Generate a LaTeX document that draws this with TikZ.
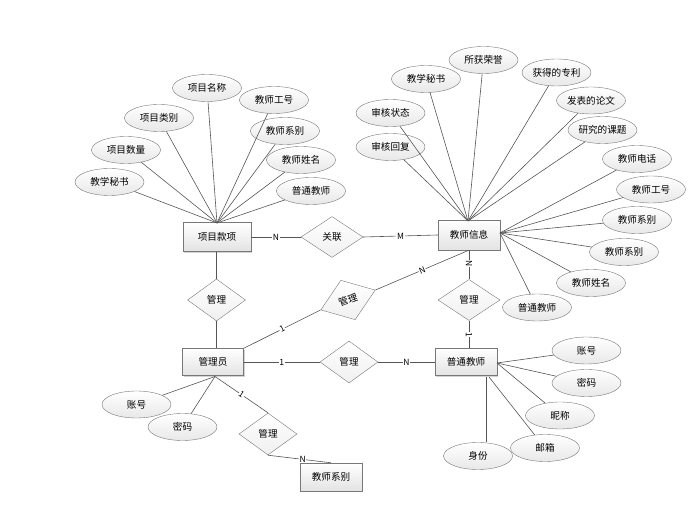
\documentclass[tikz,border=0pt]{standalone}
\usepackage{fontspec}
\setmainfont{Noto Sans CJK SC}
\usetikzlibrary{shapes.geometric,shadows}
\definecolor{linec}{RGB}{85,85,85}
\definecolor{bordc}{RGB}{120,120,120}
\begin{document}
\begin{tikzpicture}[x=1pt,y=-1pt,font=\fontsize{9.6}{11}\selectfont,
  attr/.style={ellipse,draw=bordc,top color=white,bottom color=gray!18,minimum width=69pt,minimum height=27pt,inner sep=0pt},
  entity/.style={rectangle,draw=bordc,top color=white,bottom color=gray!22,minimum width=62pt,minimum height=28pt,inner sep=0pt,
     drop shadow={opacity=0.35,shadow xshift=1.2pt,shadow yshift=-1.2pt}},
  rel/.style={diamond,draw=bordc,top color=white,bottom color=gray!12,minimum width=58pt,minimum height=42pt,inner sep=0pt},
  link/.style={draw=linec,line width=0.6pt},
  lbl/.style={fill=white,inner sep=0.6pt,font=\fontsize{8.5}{10}\selectfont}]
\useasboundingbox (0,0) rectangle (699,518);

% entities
\node[entity,minimum width=68pt,minimum height=29pt] (xm) at (217,237) {项目款项};
\node[entity,minimum height=30pt] (js) at (469,235) {教师信息};
\node[entity,minimum width=61pt,minimum height=27pt] (gly) at (213,362) {管理员};
\node[entity,minimum height=27pt] (pt) at (466,362) {普通教师};
\node[entity] (xb) at (331,477) {教师系别};

% relationships
\node[rel,minimum width=62pt,minimum height=41pt] (gl) at (332,237) {关联};
\node[rel] (r1) at (216.5,300) {管理};
\node[rel,rotate=20] (r2) at (348,300) {管理};
\node[rel,minimum width=62pt,minimum height=41pt] (r3) at (469,300) {管理};
\node[rel] (r4) at (349,362) {管理};
\node[rel] (r5) at (268,434) {管理};

% attributes of 项目款项
\node[attr] (a1) at (207,88) {项目名称};
\node[attr] (a2) at (274,100) {教师工号};
\node[attr] (a3) at (159,118) {项目类别};
\node[attr] (a4) at (285,131) {教师系别};
\node[attr] (a5) at (126,150) {项目数量};
\node[attr] (a6) at (301,160) {教师姓名};
\node[attr] (a7) at (109.5,182) {教学秘书};
\node[attr] (a8) at (311,191) {普通教师};
\coordinate (xmt) at (217,223);
\foreach \a in {a1,a2,a3,a4,a5,a6,a7,a8} \draw[link] (\a) -- (xmt);

% attributes of 教师信息
\node[attr] (b1) at (483.5,60) {所获荣誉};
\node[attr] (b2) at (426,79) {教学秘书};
\node[attr] (b3) at (556.5,72.5) {获得的专利};
\node[attr] (b4) at (390.5,113) {审核状态};
\node[attr] (b5) at (591,100.5) {发表的论文};
\node[attr] (b6) at (602.5,130) {研究的课题};
\node[attr] (b7) at (390.5,147) {审核回复};
\node[attr] (b8) at (637,159) {教师电话};
\node[attr] (b9) at (651,189.5) {教师工号};
\node[attr] (b10) at (637,220) {教师系别};
\node[attr] (b11) at (624,252) {教师系别};
\node[attr] (b12) at (591,283) {教师姓名};
\node[attr] (b13) at (537,307.5) {普通教师};
\coordinate (jst) at (468,221);
\coordinate (jsr) at (500,233);
\foreach \a in {b1,b2,b3,b4,b5,b6,b7} \draw[link] (\a) -- (jst);
\foreach \a in {b8,b9,b10,b11,b12,b13} \draw[link] (\a) -- (jsr);

% attributes of 普通教师
\node[attr] (c1) at (586.5,350.5) {账号};
\node[attr] (c2) at (586.5,383) {密码};
\node[attr] (c3) at (560,415.5) {昵称};
\node[attr] (c4) at (545,448) {邮箱};
\node[attr] (c5) at (478,456) {身份};
\coordinate (ptr) at (497,363);
\coordinate (ptb1) at (486,377);
\coordinate (ptb2) at (489,377);
\draw[link] (c1) -- (ptr);
\draw[link] (c2) -- (ptr);
\draw[link] (c3) -- (ptr);
\draw[link] (c4) -- (ptb2);
\draw[link] (c5.north -| ptb1) -- (ptb1);

% attributes of 管理员
\node[attr] (d1) at (136.5,404.5) {账号};
\node[attr] (d2) at (182.5,427) {密码};
\coordinate (glyb) at (215,376.5);
\draw[link] (d1) -- (glyb);
\draw[link] (d2) -- (glyb);

% relationship links
\draw[link] (xm.east) -- node[lbl] {N} (gl.west);
\draw[link] (gl.east) -- node[lbl] {M} (js.west);
\draw[link] (xm.south -| r1.north) -- (r1.north);
\draw[link] (r1.south) -- (r1.south |- gly.north);
\draw[link] (gly.north east) -- node[lbl,sloped] {1} (r2.west);
\draw[link] (r2.east) -- node[lbl,sloped] {N} (js.south);
\draw[link] (js.south) -- node[lbl,sloped,pos=0.45] {N} (r3.north);
\draw[link] (r3.south) -- node[lbl,sloped] {1} (r3.south |- pt.north);
\draw[link] (gly.east) -- node[lbl] {1} (r4.west);
\draw[link] (r4.east) -- node[lbl] {N} (pt.west);
\draw[link] (glyb) -- node[lbl,sloped] {1} (r5.north);
\draw[link] (r5.south) -- node[lbl,pos=0.55] {N} (xb.north);
\end{tikzpicture}
\end{document}
